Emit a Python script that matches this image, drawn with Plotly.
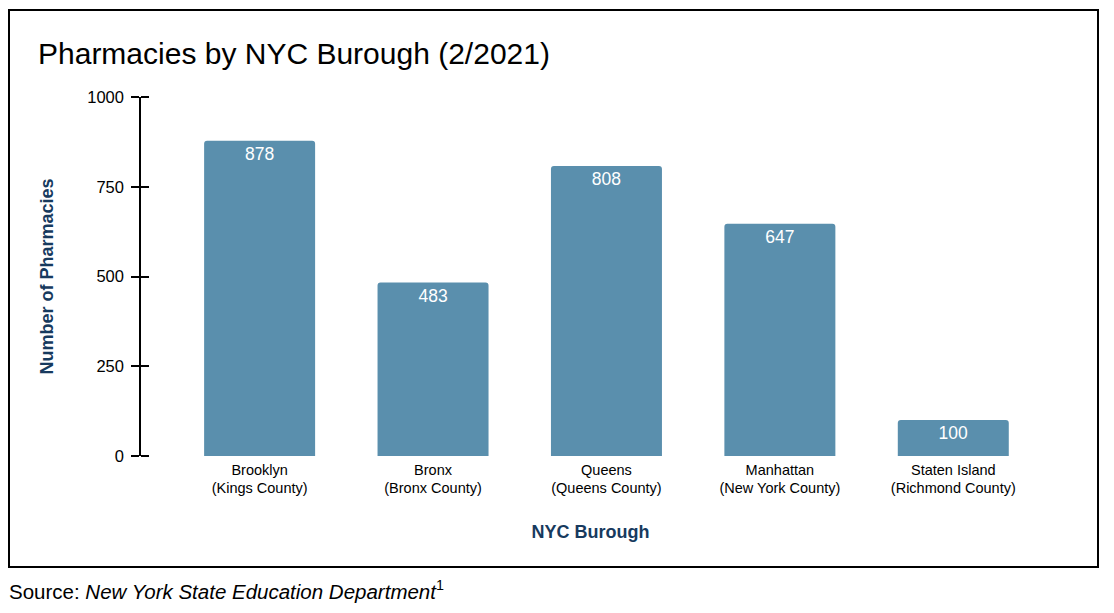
import plotly.graph_objects as go

boroughs = ["Brooklyn<br>(Kings County)", "Bronx<br>(Bronx County)", "Queens<br>(Queens County)",
            "Manhattan<br>(New York County)", "Staten Island<br>(Richmond County)"]
pharmacies = [878, 483, 808, 647, 100]
y_ticks = [0, 250, 500, 750, 1000]

BAR = "#5a8fad"
NAVY = "#173a5e"
FONT = "Liberation Sans, Arial, sans-serif"

PW = 899.0  # plot width px
PH = 359.0  # plot height px

fig = go.Figure()
fig.add_trace(go.Bar(
    x=list(range(len(boroughs))), y=pharmacies,
    marker=dict(color=BAR, line=dict(width=0), cornerradius=3),
    text=[str(v) for v in pharmacies], textposition="inside", insidetextanchor="end",
    textfont=dict(color="white", size=17.5, family=FONT),
    width=0.64, showlegend=False, hoverinfo="skip",
))
# trace bound to a second axis used to draw the right half of the crossing tick marks
fig.add_trace(go.Scatter(x=[0], y=[0], yaxis="y2", mode="markers",
                         marker=dict(opacity=0, size=1), showlegend=False, hoverinfo="skip"))

fig.update_layout(
    width=1114, height=613,
    margin=dict(l=141, r=74, t=97, b=157),
    paper_bgcolor="white", plot_bgcolor="white",
    font=dict(family=FONT, color="black"),
    title=dict(text="Pharmacies by NYC Burough (2/2021)", x=38/1114, xanchor="left",
               y=1-53/613, yanchor="middle", font=dict(size=30, color="black", family=FONT)),
    xaxis=dict(range=[-0.684, 4.5], tickvals=list(range(len(boroughs))), ticktext=boroughs,
               showline=False, showgrid=False, zeroline=False, ticks="",
               ticklabelstandoff=3,
               tickfont=dict(size=14.5, color="black", family=FONT),
               title=dict(text="<b>NYC Burough</b>", font=dict(size=18, color=NAVY, family=FONT),
                          standoff=30)),
    yaxis=dict(range=[0, 1000], tickvals=y_ticks, showgrid=False, zeroline=False,
               showline=True, linecolor="black", linewidth=1.5,
               ticks="outside", ticklen=8, tickwidth=1.5, tickcolor="black",
               ticklabelstandoff=4,
               tickfont=dict(size=16.5, color="black", family=FONT),
               title=dict(text="<b>Number of Pharmacies</b>", font=dict(size=18, color=NAVY, family=FONT),
                          standoff=29)),
    yaxis2=dict(range=[0, 1000], tickvals=y_ticks, overlaying="y", side="left",
                anchor="free", position=8/PW,
                showgrid=False, zeroline=False, showline=False, showticklabels=False,
                ticks="outside", ticklen=8, tickwidth=1.5, tickcolor="black"),
    shapes=[dict(type="rect", xref="paper", yref="paper",
                 x0=(9-141)/PW, x1=(1098-141)/PW, y0=-(567-456)/PH, y1=(456-10)/PH,
                 line=dict(color="black", width=2), fillcolor="rgba(0,0,0,0)", layer="below")],
    annotations=[dict(text="Source: <i>New York State Education Department</i><sup>1</sup>",
                      xref="paper", yref="paper", x=(7-141)/PW, y=-(590-456)/PH,
                      xanchor="left", yanchor="middle", showarrow=False,
                      font=dict(size=20.5, color="black", family=FONT))],
    bargap=0.36,
)

fig.write_html("out.html")
